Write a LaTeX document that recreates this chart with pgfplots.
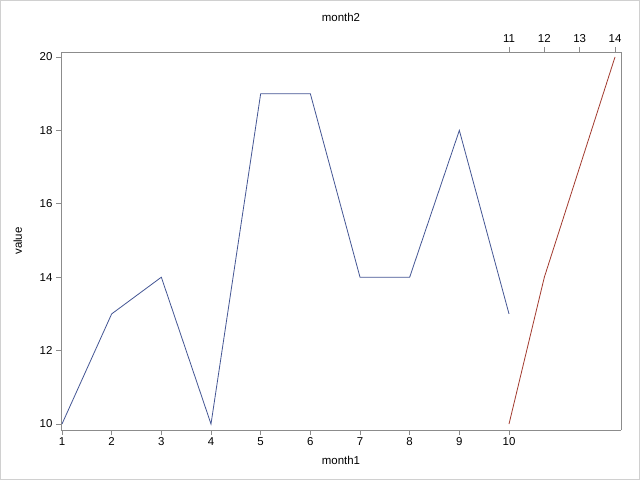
\documentclass[border=0pt]{standalone}
\usepackage{pgfplots}
\pgfplotsset{compat=1.18}
\usepackage{fontspec}
\setmainfont{Liberation Sans}
\definecolor{sasblue}{HTML}{445694}
\definecolor{sasred}{HTML}{A23A2E}
\definecolor{axgray}{HTML}{8C8C8C}
\definecolor{bordergray}{HTML}{D0D0D0}
\begin{document}
\begin{tikzpicture}[x=1bp,y=1bp]
\fill[white] (0,0) rectangle (640,480);
\draw[bordergray, line width=1bp] (0.5,0.5) rectangle (639.5,479.5);
\pgfplotsset{
  every axis/.style={
    scale only axis, width=560bp, height=378bp,
    at={(61bp,50bp)}, anchor=south west,
    font=\fontsize{11.5}{13}\selectfont,
    tick align=outside, major tick length=5bp,
    every tick/.style={axgray, line width=0.6bp},
    axis line style={axgray, line width=0.8bp},
    /pgf/number format/assume math mode=true,
    ymin=9.837, ymax=20.136,
  }
}
\begin{axis}[
  xmin=0.98, xmax=12.255,
  xtick={1,...,10},
  ytick={10,12,...,20},
  axis x line*=bottom, axis y line*=left,
  xticklabel style={yshift=1bp},
  xlabel={month1}, ylabel={value},
  xlabel style={yshift=-4bp},
  ylabel style={yshift=11bp},
]
\addplot[sasblue, line width=0.8bp] coordinates {
(1,10) (2,13) (3,14) (4,10) (5,19) (6,19) (7,14) (8,14) (9,18) (10,13)
};
\end{axis}
\begin{axis}[
  xmin=-1.68, xmax=14.17,
  xtick={11,12,13,14},
  axis x line*=top, axis y line*=right,
  ytick=\empty,
  xticklabel style={yshift=1bp},
  xlabel={month2},
  xlabel style={yshift=6bp},
]
\addplot[sasred, line width=0.8bp] coordinates {
(11,10) (12,14) (13,17) (14,20)
};
\end{axis}
\end{tikzpicture}
\end{document}
